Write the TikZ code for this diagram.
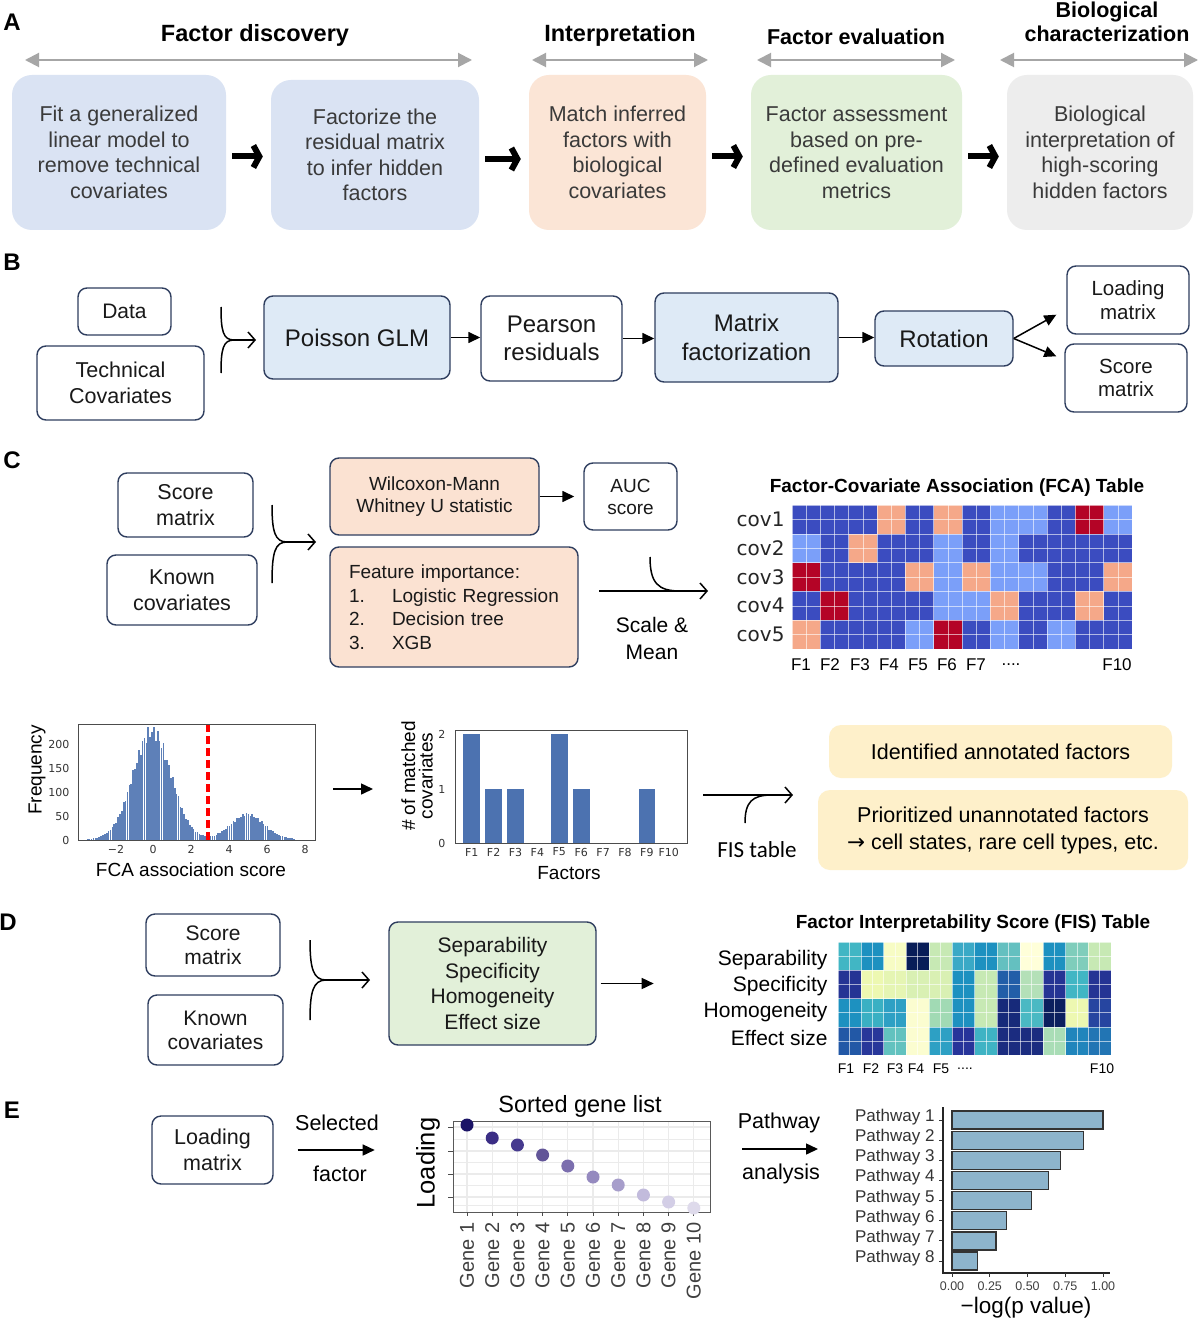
\documentclass[tikz,border=0pt]{standalone}
\usepackage{fontspec}
\setmainfont{Liberation Sans}
\newfontfamily\plotfont{DejaVu Sans}
\newfontfamily\calfont{Carlito}
\usepackage{xcolor}
\usetikzlibrary{arrows.meta, calc}

\definecolor{stageBlue}{HTML}{DAE3F3}
\definecolor{stagePeach}{HTML}{FBE5D6}
\definecolor{stageGreen}{HTML}{E2F0D9}
\definecolor{stageGray}{HTML}{EDEDED}
\definecolor{boxNavy}{RGB}{47,62,95}
\definecolor{flowBlue}{HTML}{DEEAF6}
\definecolor{flowPeach}{HTML}{FBE2D2}
\definecolor{noteYellow}{HTML}{FEF0CA}
\definecolor{spanGray}{HTML}{A6A6A6}
\definecolor{textGray}{HTML}{3A3A3A}
\definecolor{histBlue}{HTML}{4C72B0}
\definecolor{fcaD}{HTML}{3B4CC0}
\definecolor{fcaL}{HTML}{7B9FF9}
\definecolor{fcaP}{HTML}{F5A889}
\definecolor{fcaR}{HTML}{B40426}
\definecolor{barSteel}{HTML}{8DB4CC}
\definecolor{gridGray}{HTML}{EBEBEB}

\newcommand{\pxfont}[2]{\fontsize{#1}{#2}\selectfont}

\tikzset{
  panel/.style={font=\bfseries\pxfont{24}{26}},
  phase/.style={font=\bfseries\pxfont{23.5}{25}},
  stage/.style={rectangle, rounded corners=20pt, inner sep=0pt, align=center, text=textGray, font=\pxfont{21.5}{25.5}},
  flowbox/.style={rectangle, rounded corners=9pt, draw=boxNavy, line width=1.4pt, inner sep=0pt, align=center, text=black!90},
  note/.style={rectangle, rounded corners=12pt, fill=noteYellow, inner sep=0pt, align=center, font=\pxfont{21.5}{27}},
  bigArrow/.style={line width=6pt, -{Straight Barb[length=6pt,width=22pt]}, shorten <=6pt, shorten >=8pt},
  spanArrow/.style={spanGray, line width=2pt, {Triangle[length=14pt,width=14pt]}-{Triangle[length=14pt,width=14pt]}},
  flowArrow/.style={line width=1.5pt, -{Triangle[length=12pt,width=11pt]}},
  mergeLine/.style={line width=1.5pt},
  openArrow/.style={line width=1.5pt, -{Straight Barb[length=7pt,width=16pt]}},
  tickLabel/.style={font=\plotfont\pxfont{11}{12}, text=black!80},
  axisLabel/.style={font=\pxfont{19}{21}},
}

\begin{document}
\begin{tikzpicture}[x=1pt, y=-1pt]
\useasboundingbox (0,0) rectangle (1200,1321);
\fill[white] (0,0) rectangle (1200,1321);

% ---------------- A: workflow stages
\node[panel] (lblA) at (12,22) {A};
\node[phase] (hdDisc) at (255,35) {Factor discovery};
\node[phase] (hdInterp) at (620,35) {Interpretation};
\node[phase, font=\bfseries\pxfont{21.5}{24}] (hdEval) at (856,37) {Factor evaluation};
\node[phase, font=\bfseries\pxfont{21.5}{24}, align=center] (hdBio) at (1107,22) {Biological\\characterization};
\foreach \l/\r [count=\k] in {25/472,532/708,757/955,1000/1198} {
  \coordinate (spanL\k) at (\l,60);
  \coordinate (spanR\k) at (\r,60);
  \draw[spanArrow] (spanL\k) -- (spanR\k);
}

\node[stage, fill=stageBlue, minimum width=214pt, minimum height=155pt] (fitBox) at (119,152.5)
  {Fit a generalized\\linear model to\\remove technical\\covariates};
\node[stage, fill=stageBlue, minimum width=208pt, minimum height=150pt] (factBox) at (375,155)
  {Factorize the\\residual matrix\\to infer hidden\\factors};
\node[stage, fill=stagePeach, minimum width=177pt, minimum height=155pt] (matchBox) at (617.5,152.5)
  {Match inferred\\factors with\\biological\\covariates};
\node[stage, fill=stageGreen, minimum width=211pt, minimum height=155pt] (assessBox) at (856.5,152.5)
  {Factor assessment\\based on pre-\\defined evaluation\\metrics};
\node[stage, fill=stageGray, minimum width=186pt, minimum height=155pt] (bioBox) at (1100,152.5)
  {Biological\\interpretation of\\high-scoring\\hidden factors};
\foreach \a/\b in {fitBox/factBox, factBox/matchBox, matchBox/assessBox, assessBox/bioBox}
  \draw[bigArrow] ([yshift=-4pt]\a.east) -- ([yshift=-4pt]\a.east -| \b.west);

% ---------------- B: pipeline
\node[panel] (lblB) at (12,262) {B};
\node[flowbox, minimum width=93pt, minimum height=47pt, font=\pxfont{21}{25}] (dataBox) at (124.5,311.5) {Data};
\node[flowbox, minimum width=167pt, minimum height=74pt, font=\pxfont{21.5}{26}] (techBox) at (120.5,383) {Technical\\Covariates};
\coordinate (bTop) at (221,307);
\coordinate (bBot) at (221,373);
\coordinate (bJoin) at (234,340);
\coordinate (bEnd) at (256,340);
\draw[mergeLine] (bTop) .. controls (221,331) and (223,340) .. (bJoin);
\draw[mergeLine] (bBot) .. controls (221,349) and (223,340) .. (bJoin);
\draw[openArrow] (bJoin) -- (bEnd);

\node[flowbox, fill=flowBlue, minimum width=186pt, minimum height=83pt, font=\pxfont{24}{28}] (glmBox) at (357,337.5) {Poisson GLM};
\node[flowbox, minimum width=141pt, minimum height=85pt, font=\pxfont{24}{28}] (pearsonBox) at (551.5,338.5) {Pearson\\residuals};
\node[flowbox, fill=flowBlue, minimum width=183pt, minimum height=89pt, font=\pxfont{24}{29}] (mfBox) at (746.5,337.5) {Matrix\\factorization};
\node[flowbox, fill=flowBlue, minimum width=138pt, minimum height=55pt, font=\pxfont{24}{28}] (rotBox) at (944,338.5) {Rotation};
\node[flowbox, minimum width=122pt, minimum height=68pt, font=\pxfont{20.5}{23.5}] (loadBox) at (1128,300) {Loading\\matrix};
\node[flowbox, minimum width=122pt, minimum height=68pt, font=\pxfont{20.5}{23.5}] (scoreBox) at (1126,378) {Score\\matrix};
\draw[flowArrow] (glmBox.east) -- (glmBox.east -| pearsonBox.west);
\draw[flowArrow] (pearsonBox.east) -- (pearsonBox.east -| mfBox.west);
\draw[flowArrow] (mfBox.east) -- (mfBox.east -| rotBox.west);
\draw[flowArrow] (rotBox.east) -- ($(loadBox.south west)+(-10,-20)$);
\draw[flowArrow] (rotBox.east) -- ($(scoreBox.north west)+(-8,13)$);

% ---------------- C: covariate matching
\node[panel] (lblC) at (12,460) {C};
\node[flowbox, minimum width=135pt, minimum height=64pt, font=\pxfont{21.5}{26}] (cScoreBox) at (185.5,505) {Score\\matrix};
\node[flowbox, minimum width=150pt, minimum height=70pt, font=\pxfont{21.5}{26}] (cKnownBox) at (182,590) {Known\\covariates};
\coordinate (cTop) at (272,505);
\coordinate (cBot) at (272,583);
\coordinate (cJoin) at (287,542);
\coordinate (cEnd) at (316,542);
\draw[mergeLine] (cTop) .. controls (272,532) and (275,542) .. (cJoin);
\draw[mergeLine] (cBot) .. controls (272,552) and (275,542) .. (cJoin);
\draw[openArrow] (cJoin) -- (cEnd);

\node[flowbox, fill=flowPeach, minimum width=209pt, minimum height=77pt, font=\pxfont{19}{22}] (wilcoxBox) at (434.5,496.5) {Wilcoxon-Mann\\Whitney U statistic};
\node[flowbox, minimum width=93pt, minimum height=67pt, font=\pxfont{19}{22}] (aucBox) at (630.5,496.5) {AUC\\score};
\draw[flowArrow, shorten >=9pt] (wilcoxBox.east) -- (wilcoxBox.east -| aucBox.west);
\node[flowbox, fill=flowPeach, text width=210pt, inner xsep=19pt, minimum height=120pt, align=left, font=\pxfont{19}{23.5}] (featBox) at (454,607)
  {Feature importance:\\\makebox[43pt][l]{1.}Logistic Regression\\\makebox[43pt][l]{2.}Decision tree\\\makebox[43pt][l]{3.}XGB};

\coordinate (scStart) at (599,591);
\coordinate (scEnd) at (708,591);
\coordinate (scFoot) at (650,557);
\coordinate (scJoin) at (680,591);
\draw[mergeLine] (scFoot) .. controls (650,583) and (658,591) .. (scJoin);
\draw[openArrow] (scStart) -- (scEnd);
\node[font=\pxfont{21}{27}, align=center] (scaleText) at (652,638) {Scale \&\\Mean};

% FCA table
\node[font=\bfseries\pxfont{19}{20}] (fcaTitle) at (957,488) {Factor-Covariate Association (FCA) Table};
\foreach \row [count=\r from 0] in {{D,D,D,P,D,P,D,L,L,D,R,L},{L,D,P,D,D,L,D,L,D,D,D,D},{R,D,D,D,P,L,P,L,L,D,D,P},{D,R,D,D,D,L,L,P,D,D,P,D},{P,D,D,D,L,R,D,L,D,L,D,D}}
  \foreach \c [count=\k from 0] in \row
    \fill[fca\c] (792+28.333*\k,505+28.8*\r) rectangle (820.6+28.333*\k,534+28.8*\r);
\foreach \g in {0,...,24}
  \draw[white, line width=0.5pt, opacity=0.6] (792+14.1667*\g,505) -- ++(0,144);
\foreach \g in {0,...,10}
  \draw[white, line width=0.5pt, opacity=0.6] (792,505+14.4*\g) -- ++(340,0);
\foreach \r in {1,...,5}
  \node[anchor=east, font=\plotfont\pxfont{20}{22}, text=black!85] (cov\r) at (788,519.4+28.8*\r-28.8) {cov\r};
\foreach \lab/\xx in {F1/801,F2/830,F3/860,F4/889,F5/918,F6/947,F7/976,F10/1117}
  \node[font=\pxfont{17}{18}] (fca\lab) at (\xx,665) {\lab};
\node[font=\pxfont{17}{18}] (fcaDots) at (1011,665) {....};

% histogram of association scores
\begin{scope}[shift={(153,840)}, x=18.9pt, y=0.475pt]
  \foreach \i in {0,...,109} {
    \pgfmathsetmacro{\xc}{-3.45+0.1*\i}
    \pgfmathsetmacro{\hh}{min(238,(226*exp(-(\xc+0.05)*(\xc+0.05)/2) + 52*exp(-(\xc-5)*(\xc-5)/1.5) + 2)*(1+0.07*sin(\i*137.5)))}
    \fill[histBlue!90!white] (\xc-0.043,0) rectangle (\xc+0.043,\hh);
  }
  \draw[red, line width=3.5pt, dash pattern=on 8pt off 4pt] (2.91,0) -- (2.91,244);
\end{scope}
\draw[black!70, line width=1pt] (78,724) rectangle (315,840);
\foreach \v/\yy in {0/840,50/816,100/792,150/768,200/744}
  \node[tickLabel, anchor=east] (hy\v) at (73,\yy) {\v};
\foreach \v/\xx [count=\k] in {−2/116,0/153,2/191,4/229,6/267,8/305}
  \node[tickLabel] (hx\k) at (\xx,849) {\v};
\node[axisLabel, rotate=90] (freqLabel) at (37,770) {Frequency};
\node[axisLabel] (fcaAxis) at (191,870) {FCA association score};

\coordinate (histOut) at (333,789);
\coordinate (barIn) at (373,789);
\draw[flowArrow] (histOut) -- (barIn);

% matched covariates per factor
\foreach \v [count=\k from 0] in {2,1,1,0,2,1,0,0,1,0} {
  \ifnum\v>0
    \fill[histBlue] (463.3+21.9*\k,843) rectangle (480+21.9*\k,843-54.5*\v);
  \fi
  \node[tickLabel] (bx\k) at (471.7+21.9*\k,852) {F\the\numexpr\k+1\relax};
}
\draw[black!70, line width=1pt] (455,730) rectangle (687,843);
\foreach \v/\yy in {0/843,1/789,2/734}
  \node[tickLabel, anchor=east] (by\v) at (449,\yy) {\v};
\node[axisLabel, rotate=90, align=center, font=\pxfont{19}{17.5}] (matchLabel) at (417,776) {\# of matched\\covariates};
\node[axisLabel] (factorsLabel) at (569,873) {Factors};

\coordinate (fisStart) at (703,795);
\coordinate (fisEnd) at (793,795);
\coordinate (fisFoot) at (745,823);
\coordinate (fisJoin) at (772,795);
\draw[mergeLine] (fisFoot) .. controls (745,802) and (752,795) .. (fisJoin);
\draw[openArrow] (fisStart) -- (fisEnd);
\node[font=\calfont\pxfont{23}{25}] (fisText) at (757,850) {FIS table};

\node[note, minimum width=343pt, minimum height=53pt] (annotBox) at (1000.5,751.5) {Identified annotated factors};
\node[note, minimum width=370pt, minimum height=80pt] (prioBox) at (1003,830) {Prioritized unannotated factors\\{\plotfont →} cell states, rare cell types, etc.};

% ---------------- D: interpretability scores
\node[panel] (lblD) at (8,922) {D};
\node[flowbox, minimum width=134pt, minimum height=62pt, font=\pxfont{21}{24}] (dScoreBox) at (213,945) {Score\\matrix};
\node[flowbox, minimum width=135pt, minimum height=70pt, font=\pxfont{21}{24}] (dKnownBox) at (215.5,1030) {Known\\covariates};
\coordinate (dTop) at (310,940);
\coordinate (dBot) at (310,1020);
\coordinate (dJoin) at (326,980);
\coordinate (dEnd) at (370,980);
\draw[mergeLine] (dTop) .. controls (310,968) and (313,980) .. (dJoin);
\draw[mergeLine] (dBot) .. controls (310,992) and (313,980) .. (dJoin);
\draw[openArrow] (dJoin) -- (dEnd);
\node[flowbox, fill=stageGreen, minimum width=207pt, minimum height=123pt, font=\pxfont{21}{25.5}] (metricBox) at (492.5,983.5)
  {Separability\\Specificity\\Homogeneity\\Effect size};
\draw[flowArrow] ([xshift=4pt]metricBox.east) -- ++(53,0);

\node[font=\bfseries\pxfont{19}{20}] (fisTitle) at (973,924) {Factor Interpretability Score (FIS) Table};
\foreach \row [count=\r from 0] in {
  {41B6C4,1D91C0,F7FCC4,081D58,C7E9B4,3AA9C6,1D91C0,64C0C0,FFFFD9,1D91C0,7FCDBB,C7E9B4},
  {253494,EDF8B1,E5F5B3,D9F0B3,D9F0B3,1D91C0,C7E9B4,225EA8,B4E0B8,253494,41B6C4,253494},
  {1D91C0,3AB0C3,2EA0C4,FBFDD0,A1DAB4,1D91C0,C7E9B4,172A7A,4AB9C3,0B1F5E,EDF8B1,2645A0},
  {2258A6,28379A,62C2BF,FBFDD0,2DA0C4,27349A,3FB3C4,1B2C80,1B2C80,A9DDB6,2085BC,2275B4}}
  \foreach \c [count=\k from 0] in \row {
    \edef\setTone{\noexpand\definecolor{cellTone}{HTML}{\c}}\setTone
    \fill[cellTone] (838+22.75*\k,942+28.25*\r) rectangle (861+22.75*\k,970.5+28.25*\r);
  }
\foreach \g in {0,...,24}
  \draw[white, line width=0.5pt, opacity=0.6] (838+11.375*\g,942) -- ++(0,113);
\foreach \g in {0,...,8}
  \draw[white, line width=0.5pt, opacity=0.6] (838,942+14.125*\g) -- ++(273,0);
\foreach \lab/\yy [count=\k] in {Separability/960,Specificity/986,Homogeneity/1012,Effect size/1038}
  \node[anchor=east, font=\pxfont{21}{23}] (fisRow\k) at (831,\yy) {\lab};
\foreach \lab/\xx in {F1/846,F2/871,F3/895,F4/916,F5/941,F10/1102}
  \node[font=\pxfont{14}{15}] (fis\lab) at (\xx,1069) {\lab};
\node[font=\pxfont{14}{15}] (fisDots) at (965,1069) {....};

% ---------------- E: gene list and pathways
\node[panel] (lblE) at (12,1110) {E};
\node[flowbox, minimum width=121pt, minimum height=68pt, font=\pxfont{21.5}{26}] (eLoadBox) at (212.5,1150) {Loading\\matrix};
\node[font=\pxfont{21.5}{24}] (selText) at (337,1123) {Selected};
\node[font=\pxfont{21.5}{24}] (facText) at (340,1174) {factor};
\draw[flowArrow] ([xshift=24pt]eLoadBox.east) -- ++(77,0);

\node[font=\pxfont{23.5}{25}] (sortTitle) at (580,1106) {Sorted gene list};
\foreach \yy in {1139,1162.5,1185.5,1205}
  \draw[gridGray, line width=0.6pt] (453,\yy) -- (710,\yy);
\foreach \yy in {1127,1151,1174,1197}
  \draw[gridGray, line width=1.2pt] (453,\yy) -- (710,\yy);
\foreach \k in {0,...,9}
  \draw[gridGray, line width=1.2pt] (467+25.2*\k,1121) -- (467+25.2*\k,1212);
\draw[black!65, line width=1pt] (453,1121) rectangle (710,1212);
\foreach \yy in {1127,1151,1174,1197}
  \draw[black!70, line width=1pt] (448,\yy) -- (453,\yy);
\foreach \c/\yy [count=\k from 0] in {1B1466/1125,3B2E85/1138,463A8F/1145,625598/1155,7B6EAE/1166,958ABF/1177,A79ECB/1185,C2BBDC/1195,D3CEE6/1202,DEDAEB/1208} {
  \edef\setTone{\noexpand\definecolor{dotTone}{HTML}{\c}}\setTone
  \draw[black!70, line width=1pt] (467+25.2*\k,1212) -- ++(0,4);
  \fill[dotTone] (467+25.2*\k,\yy) circle[radius=6.5pt];
  \node[rotate=90, anchor=east, font=\pxfont{20}{22}, text=black!75] (gene\k) at (467+25.2*\k,1219) {Gene \the\numexpr\k+1\relax};
}
\node[rotate=90, font=\pxfont{25.5}{27}] (loadLabel) at (428,1163) {Loading};

\coordinate (pathStart) at (742,1149);
\coordinate (pathEnd) at (818,1149);
\node[font=\pxfont{21.5}{24}] (pathText) at (779,1123) {Pathway};
\node[font=\pxfont{21.5}{24}] (anaText) at (781,1174) {analysis};
\draw[flowArrow] (pathStart) -- (pathEnd);

\foreach \v [count=\k from 0] in {1.0,0.87,0.716,0.64,0.525,0.363,0.291,0.171} {
  \draw[black!80, fill=barSteel, line width=1.2pt] (952,1111+20.15*\k) rectangle (952+151*\v,1129+20.15*\k);
  \draw[black!80, line width=1pt] (939,1120+20.15*\k) -- (943,1120+20.15*\k);
  \node[anchor=east, font=\pxfont{17}{18}, text=black!80] (pw\k) at (938,1117+20.15*\k) {Pathway \the\numexpr\k+1\relax};
}
\draw[black!85, line width=1.2pt] (943,1107) -- (943,1273) -- (1110,1273);
\foreach \v [count=\k from 0] in {0.00,0.25,0.50,0.75,1.00} {
  \draw[black!80, line width=1pt] (952+37.75*\k,1273) -- ++(0,4);
  \node[font=\pxfont{12.5}{14}, text=black!75] (px\k) at (952+37.75*\k,1286) {\v};
}
\node[font=\pxfont{22.5}{24}] (pvalLabel) at (1026,1308) {−log(p value)};
\end{tikzpicture}
\end{document}
